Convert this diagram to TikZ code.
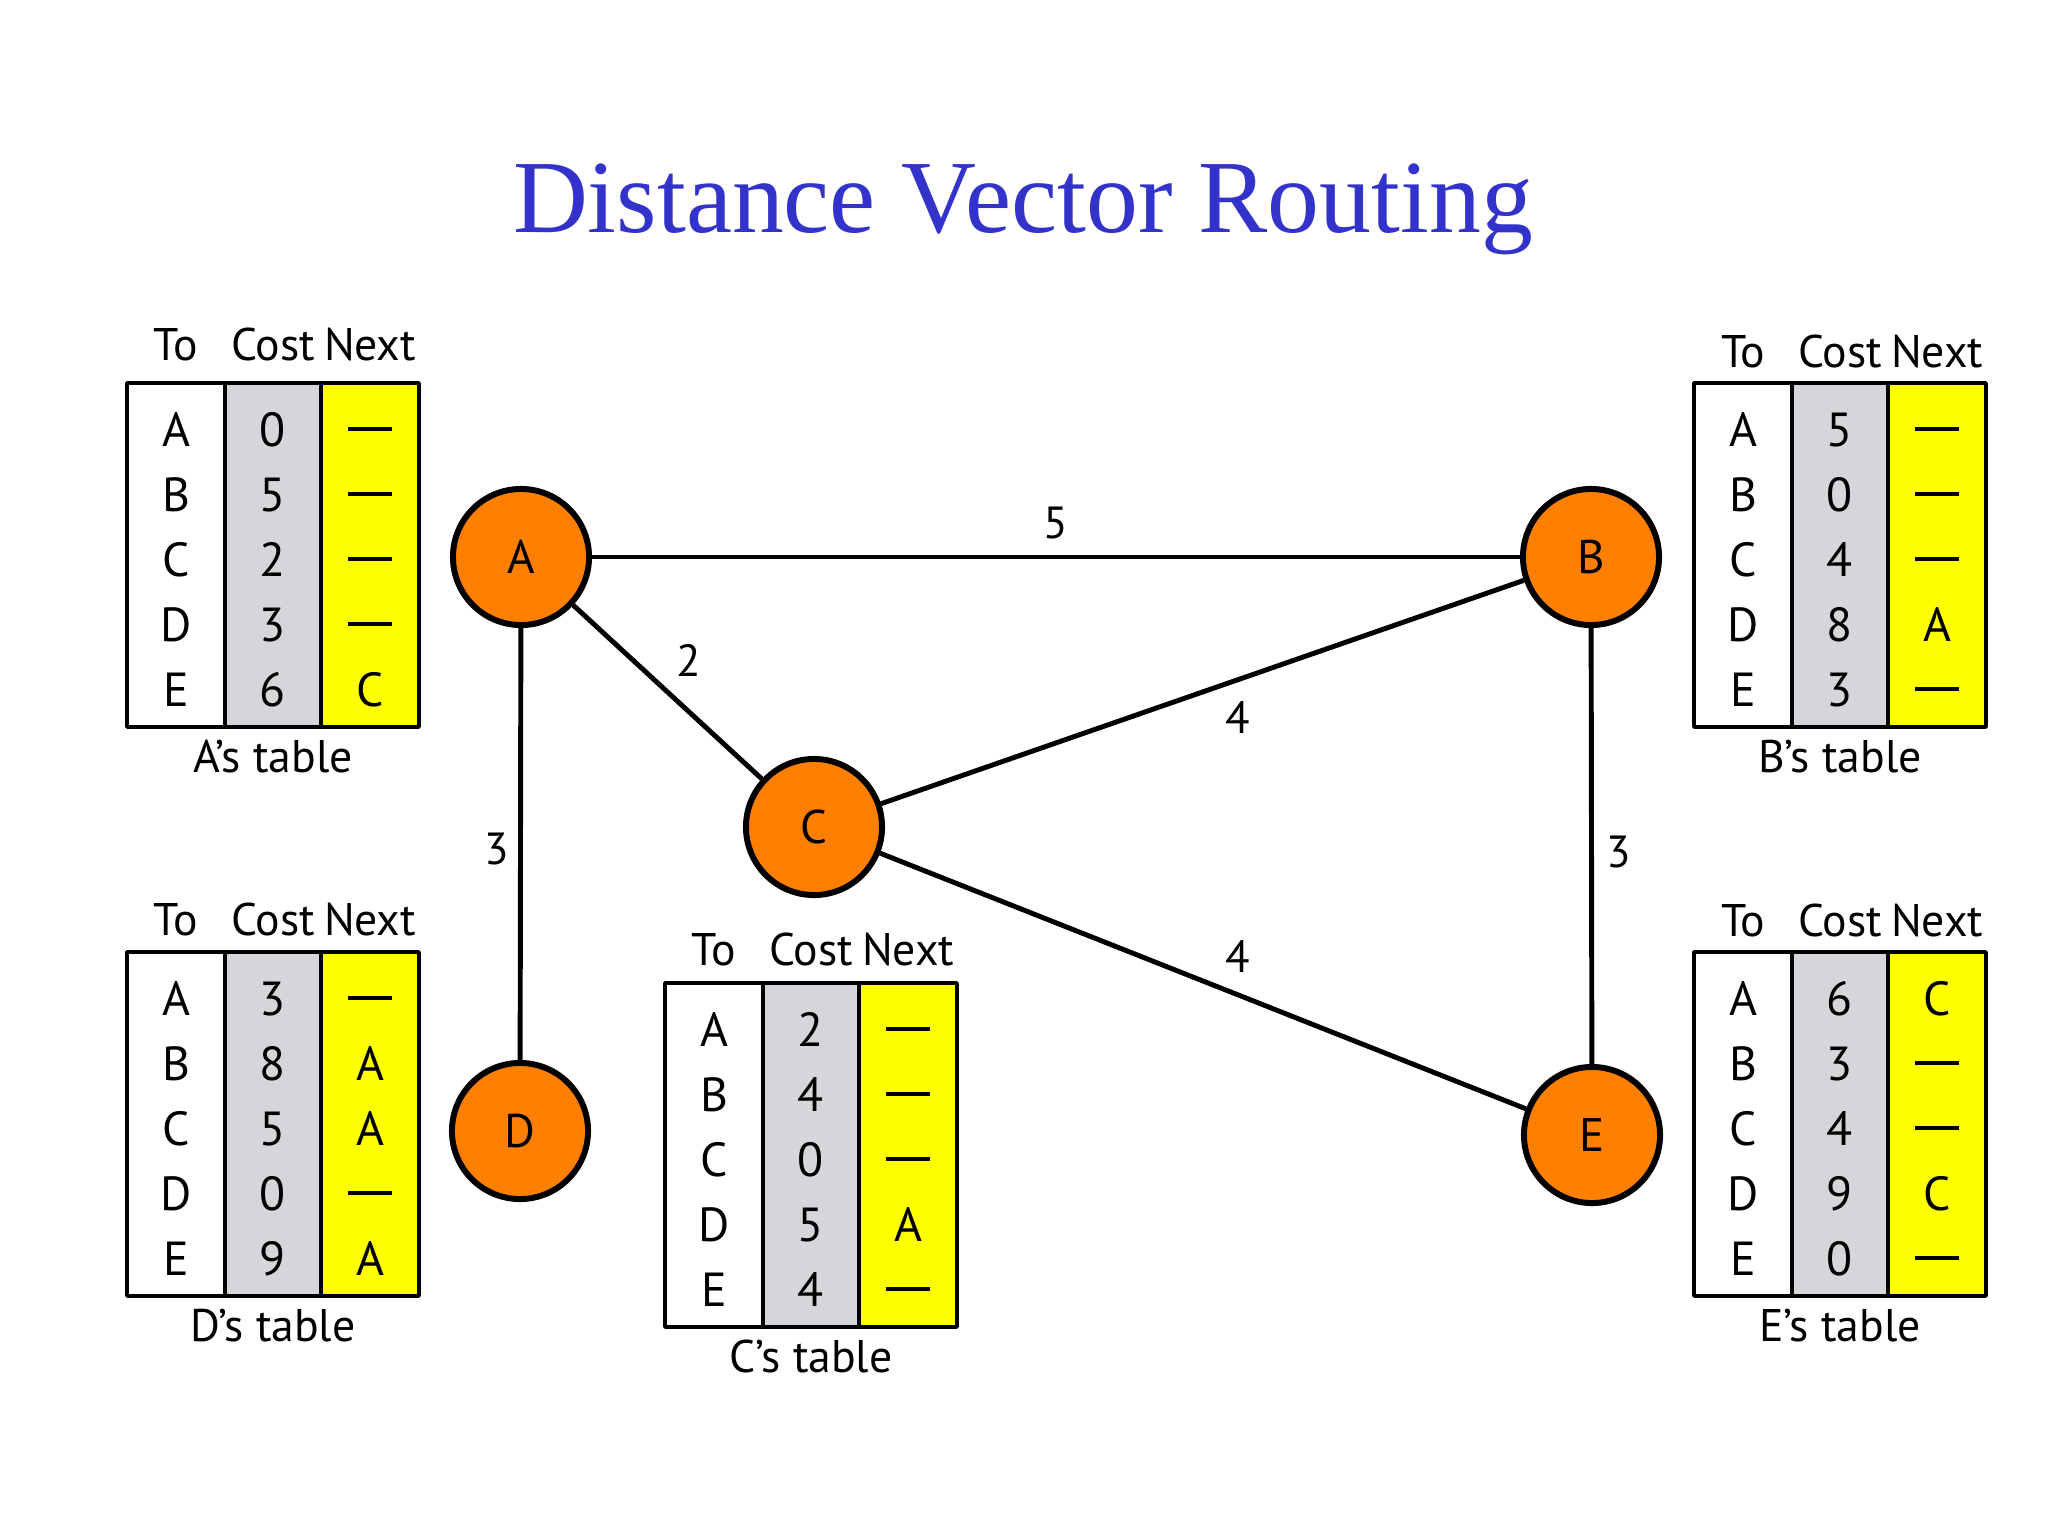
\documentclass[tikz,border=0pt]{standalone}
\usepackage{fontspec}
\setmainfont{PT Sans}
\newfontfamily\titlefont{Liberation Serif}
\definecolor{titleblue}{RGB}{51,51,204}
\definecolor{routerorange}{RGB}{255,128,0}
\definecolor{costgray}{RGB}{214,214,218}
\definecolor{nextyellow}{RGB}{255,255,0}
\newcommand{\nohop}{\rule[0.31em]{0.92em}{0.08em}}
% #1 name, #2 top left corner, #3 costs, #4 next hops, #5 owner, #6 header lift
\newcommand{\dvtable}[6]{%
	\begin{scope}[shift={#2}]
		\fill[costgray] (98,0) rectangle (194,344);
		\fill[nextyellow] (194,0) rectangle (292,344);
		\draw[tabline] (0,0) rectangle (292,344) (98,0)--(98,344) (194,0)--(194,344);
		\node[hdr] (#1to) at (49,-#6) {To};
		\node[hdr] (#1cost) at (146,-#6) {Cost};
		\node[hdr] (#1next) at (243,-#6) {Next};
		\foreach \d [count=\i from 0] in {A,B,C,D,E}
			\node[cell] (#1d\i) at (49,{63+65*\i}) {\d};
		\foreach \c [count=\i from 0] in {#3}
			\node[cell] (#1c\i) at (146,{63+65*\i}) {\c};
		\foreach \n [count=\i from 0] in {#4}
			\node[cell] (#1n\i) at (243,{63+65*\i}) {\n};
		\node[hdr] (#1cap) at (146,389) {#5’s table};
	\end{scope}}
\begin{document}
\begin{tikzpicture}[x=0.01cm,y=-0.01cm,line join=round]
	\tikzset{router/.style={circle,draw,fill=routerorange,line width=1.7pt,minimum size=38.7pt,inner sep=0pt,font=\fontsize{13.4}{16}\selectfont},
		link/.style={line width=1.4pt},
		wt/.style={inner sep=0pt,font=\fontsize{12.8}{15}\selectfont},
		tabline/.style={line width=1pt},
		hdr/.style={anchor=base,inner sep=0pt,font=\fontsize{13}{15}\selectfont},
		cell/.style={anchor=base,inner sep=0pt,font=\fontsize{13.6}{16}\selectfont}}
	\useasboundingbox[fill=white] (0,0) rectangle (2048,1536);
	\node[anchor=base,text=titleblue,font=\titlefont\fontsize{29.5}{34}\selectfont] (title) at (1023,232) {Distance Vector Routing};
	% routers
	\node[router] (A) at (521,557) {A};
	\node[router] (B) at (1591,557) {B};
	\node[router] (C) at (814,827) {C};
	\node[router] (D) at (520,1131) {D};
	\node[router] (E) at (1592,1135) {E};
	% links
	\draw[link] (A) -- node[wt,yshift=9.7pt] (wab) {5} (B);
	\draw[link] (A) -- node[wt,xshift=6pt,yshift=9pt] (wac) {2} (C);
	\draw[link] (A) -- node[wt,xshift=-6.8pt,yshift=-1.3pt] (wad) {3} (D);
	\draw[link] (C) -- node[wt,xshift=10pt,yshift=-7.3pt] (wcb) {4} (B);
	\draw[link] (C) -- node[wt,xshift=10pt,yshift=7pt] (wce) {4} (E);
	\draw[link] (B) -- node[wt,xshift=7.7pt,yshift=-1.8pt] (wbe) {3} (E);
	% routing tables
	\dvtable{ta}{(127,383)}{0,5,2,3,6}{\nohop,\nohop,\nohop,\nohop,C}{A}{23}
	\dvtable{tb}{(1694,383)}{5,0,4,8,3}{\nohop,\nohop,\nohop,A,\nohop}{B}{16}
	\dvtable{td}{(127,952)}{3,8,5,0,9}{\nohop,A,A,\nohop,A}{D}{17}
	\dvtable{tc}{(665,983)}{2,4,0,5,4}{\nohop,\nohop,\nohop,A,\nohop}{C}{18}
	\dvtable{te}{(1694,952)}{6,3,4,9,0}{C,\nohop,\nohop,C,\nohop}{E}{16}
\end{tikzpicture}
\end{document}
